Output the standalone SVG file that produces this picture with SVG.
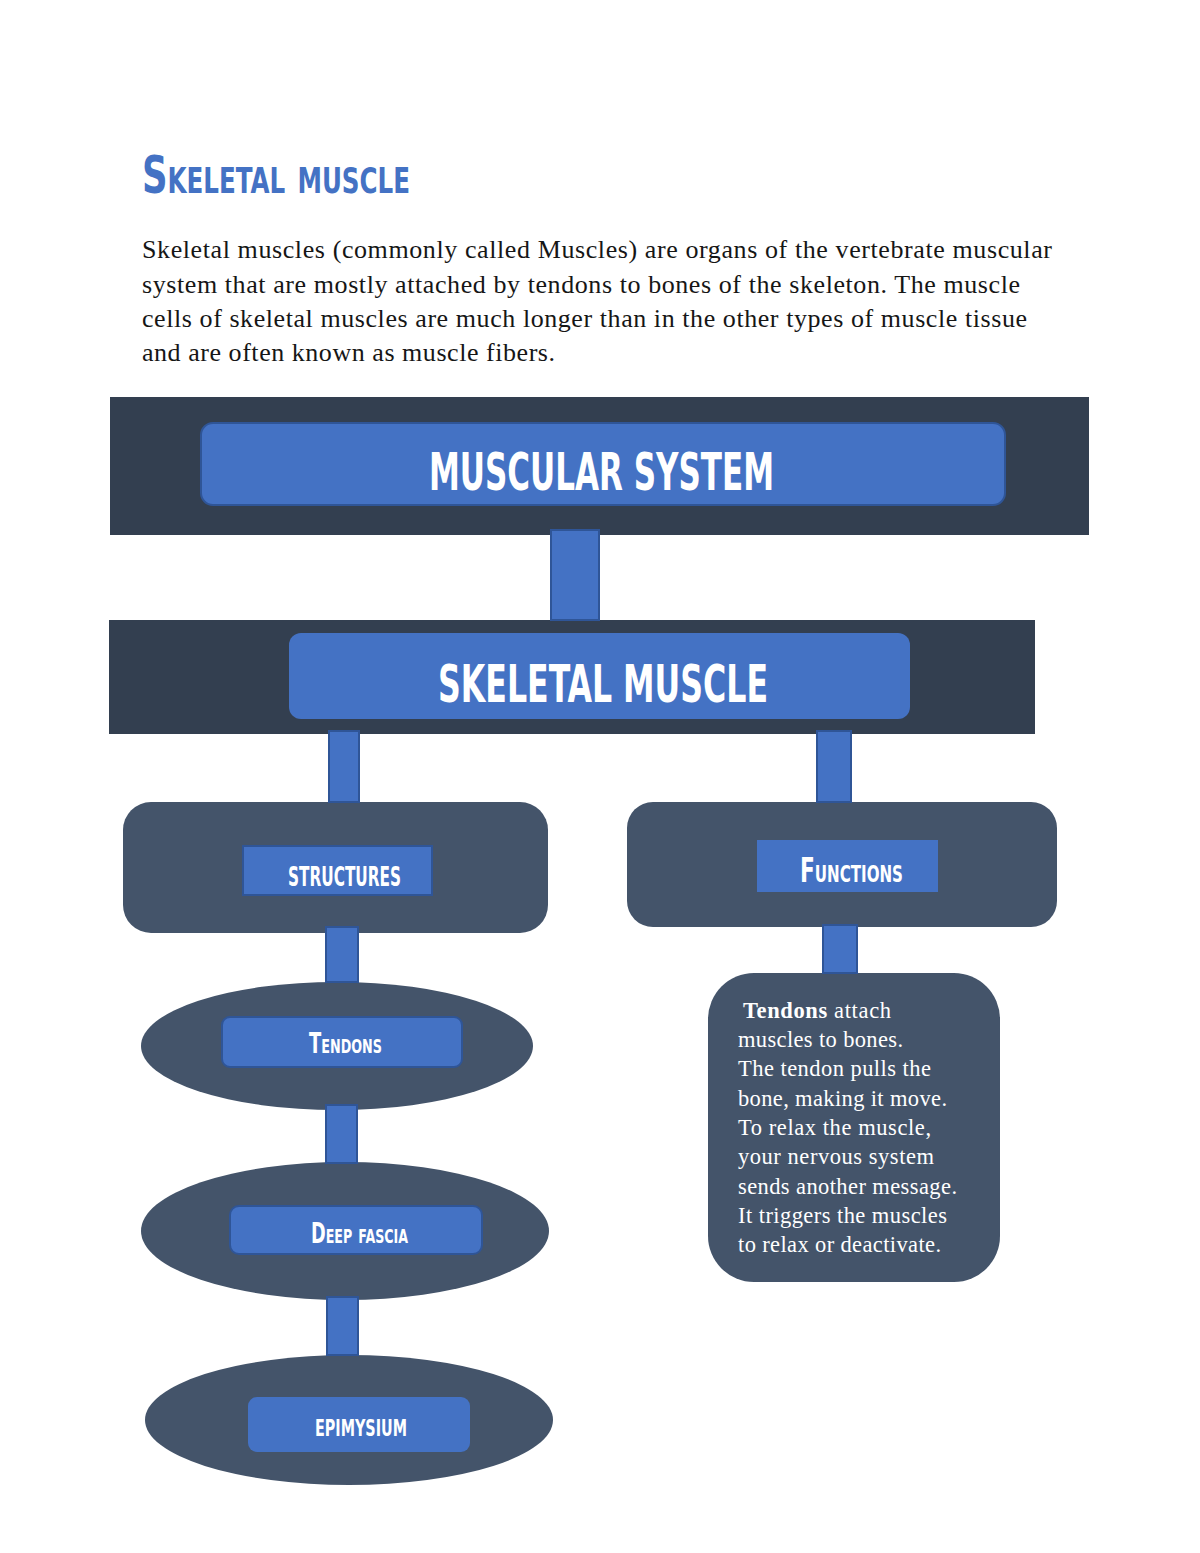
<svg xmlns="http://www.w3.org/2000/svg" width="1200" height="1553" viewBox="0 0 1200 1553">
<style>
.band{fill:#333F50}
.slate{fill:#44546A}
.blue{fill:#4472C4}
.bs{fill:#4472C4;stroke:#2F5597;stroke-width:2}
.lbl{font-family:"DejaVu Sans Condensed","DejaVu Sans",sans-serif;font-weight:bold;fill:#FFFFFF}
.sc{font-variant:small-caps}
.para{font-family:"Liberation Serif","Times New Roman",serif;font-size:26px;fill:#161616}
.fn{font-family:"Liberation Serif","Times New Roman",serif;font-size:22.5px;fill:#FFFFFF}
</style>
<rect width="1200" height="1553" fill="#FFFFFF"/>

<g id="heading">
<text class="sc" x="142" y="193" font-size="52" textLength="268" lengthAdjust="spacingAndGlyphs" style="font-family:'DejaVu Sans Condensed','DejaVu Sans',sans-serif;font-weight:bold;fill:#4472C4">Skeletal muscle</text>
</g>

<g id="intro">
<text class="para" x="142" y="258" textLength="910" lengthAdjust="spacing">Skeletal muscles (commonly called Muscles) are organs of the vertebrate muscular</text>
<text class="para" x="142" y="293" textLength="878" lengthAdjust="spacing">system that are mostly attached by tendons to bones of the skeleton. The muscle</text>
<text class="para" x="142" y="327" textLength="885" lengthAdjust="spacing">cells of skeletal muscles are much longer than in the other types of muscle tissue</text>
<text class="para" x="142" y="361" textLength="413" lengthAdjust="spacing">and are often known as muscle fibers.</text>
</g>

<g id="node-muscular-system">
<rect class="band" x="110" y="397" width="979" height="138"/>
<rect class="bs" x="201" y="423" width="804" height="82" rx="12"/>
<text class="lbl" x="429" y="490" font-size="51" textLength="345" lengthAdjust="spacingAndGlyphs">MUSCULAR SYSTEM</text>
</g>

<g id="node-skeletal-muscle">
<rect class="band" x="109" y="620" width="926" height="114"/>
<rect class="blue" x="289" y="633" width="621" height="86" rx="12"/>
<text class="lbl" x="438" y="702" font-size="52" textLength="330" lengthAdjust="spacingAndGlyphs">SKELETAL MUSCLE</text>
</g>

<g id="node-structures">
<rect class="slate" x="123" y="802" width="425" height="131" rx="28"/>
<rect class="bs" x="243" y="846" width="189" height="49"/>
<text class="lbl" x="288" y="886" font-size="27" textLength="113" lengthAdjust="spacingAndGlyphs">STRUCTURES</text>
</g>

<g id="node-functions">
<rect class="slate" x="627" y="802" width="430" height="125" rx="26"/>
<rect class="blue" x="757" y="840" width="181" height="52"/>
<text class="lbl sc" x="800" y="882" font-size="33" textLength="103" lengthAdjust="spacingAndGlyphs">Functions</text>
</g>

<g id="node-functions-text">
<rect class="slate" x="708" y="973" width="292" height="309" rx="46"/>
<text class="fn" x="743" y="1018" textLength="148" lengthAdjust="spacing"><tspan font-weight="bold">Tendons</tspan> attach</text>
<text class="fn" x="738" y="1047" textLength="165" lengthAdjust="spacing">muscles to bones.</text>
<text class="fn" x="738" y="1076" textLength="193" lengthAdjust="spacing">The tendon pulls the</text>
<text class="fn" x="738" y="1106" textLength="209" lengthAdjust="spacing">bone, making it move.</text>
<text class="fn" x="738" y="1135" textLength="193" lengthAdjust="spacing">To relax the muscle,</text>
<text class="fn" x="738" y="1164" textLength="196" lengthAdjust="spacing">your nervous system</text>
<text class="fn" x="738" y="1194" textLength="219" lengthAdjust="spacing">sends another message.</text>
<text class="fn" x="738" y="1223" textLength="209" lengthAdjust="spacing">It triggers the muscles</text>
<text class="fn" x="738" y="1252" textLength="203" lengthAdjust="spacing">to relax or deactivate.</text>
</g>

<g id="node-tendons">
<ellipse class="slate" cx="337" cy="1046" rx="196" ry="64"/>
<rect class="bs" x="222" y="1017" width="240" height="50" rx="8"/>
<text class="lbl sc" x="309" y="1053" font-size="28" textLength="73" lengthAdjust="spacingAndGlyphs">Tendons</text>
</g>

<g id="node-deep-fascia">
<ellipse class="slate" cx="345" cy="1231" rx="204" ry="69"/>
<rect class="bs" x="230" y="1206" width="252" height="48" rx="9"/>
<text class="lbl sc" x="311" y="1243" font-size="28" textLength="97" lengthAdjust="spacingAndGlyphs">Deep fascia</text>
</g>

<g id="node-epimysium">
<ellipse class="slate" cx="349" cy="1420" rx="204" ry="65"/>
<rect class="blue" x="248" y="1397" width="222" height="55" rx="9"/>
<text class="lbl" x="315" y="1436" font-size="23" textLength="92" lengthAdjust="spacingAndGlyphs">EPIMYSIUM</text>
</g>

<g id="connectors">
<rect class="bs" x="551" y="530" width="48" height="90"/>
<rect class="bs" x="329" y="731" width="30" height="71"/>
<rect class="bs" x="817" y="731" width="34" height="71"/>
<rect class="bs" x="326" y="927" width="32" height="55"/>
<rect class="bs" x="823" y="925" width="34" height="48"/>
<rect class="bs" x="326" y="1105" width="31" height="58"/>
<rect class="bs" x="327" y="1297" width="31" height="58"/>
</g>
</svg>
